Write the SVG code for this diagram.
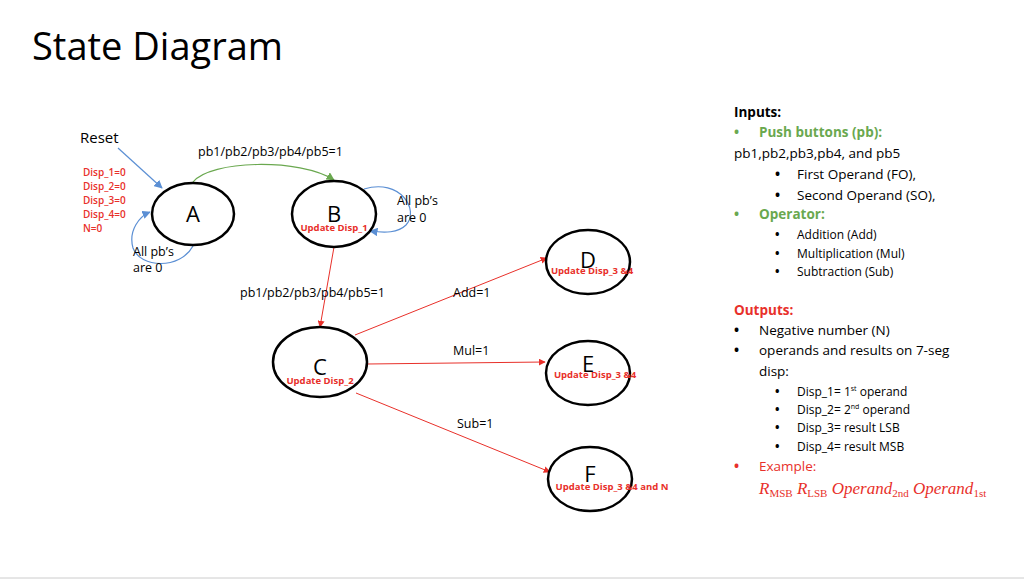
<svg xmlns="http://www.w3.org/2000/svg" width="1024" height="581" viewBox="0 0 1024 581">
<style>
text{font-family:"Open Sans","Liberation Sans",sans-serif;fill:#000}
.st{fill:#fff;stroke:#000;stroke-width:2.5}
.big{font-size:22px}
.red{fill:#e8302a}
.upd{fill:#e8302a;font-size:9.5px;font-weight:bold}
.lbl{font-size:12.5px}
.rt{font-size:13.5px}
.bl{stroke:#5b8fd4;stroke-width:1.2;fill:none}
.rd{stroke:#e8302a;stroke-width:1;fill:none}
.gr{stroke:#6aa84f;stroke-width:1.2;fill:none}
</style>
<defs>
<marker id="mb" viewBox="0 0 10 10" refX="9" refY="5" markerWidth="7" markerHeight="7" orient="auto"><path d="M0,0L10,5L0,10z" fill="#5b8fd4"/></marker>
<marker id="mr" viewBox="0 0 10 10" refX="9" refY="5" markerWidth="7" markerHeight="7" orient="auto"><path d="M0,0L10,5L0,10z" fill="#e8302a"/></marker>
<marker id="mg" viewBox="0 0 10 10" refX="9" refY="5" markerWidth="7" markerHeight="7" orient="auto"><path d="M0,0L10,5L0,10z" fill="#6aa84f"/></marker>
</defs>
<rect width="1024" height="581" fill="#fff"/>
<line x1="0" y1="578" x2="1024" y2="578" stroke="#ccc"/>
<text x="32" y="60" font-size="38">State Diagram</text>
<text x="80" y="143" font-size="15">Reset</text>
<g font-size="10" font-weight="600">
<text x="83" y="176" class="red">Disp_1=0</text><text x="83" y="190" class="red">Disp_2=0</text><text x="83" y="204" class="red">Disp_3=0</text><text x="83" y="218" class="red">Disp_4=0</text><text x="83" y="232" class="red">N=0</text>
</g>
<g id="connectors">
<path class="bl" d="M118,148 L162,188" marker-end="url(#mb)"/>
<path class="bl" d="M193,246 C180,270 140,268 133,248 C128,230 140,216 150,212" marker-end="url(#mb)"/>
<path class="gr" d="M193,182 C210,160 300,158 334,180" marker-end="url(#mg)"/>
<path class="bl" d="M364,189 C400,178 420,210 406,225 C398,233 385,233 370,231" marker-end="url(#mb)"/>
<path class="rd" d="M334,247 L320,327" marker-end="url(#mr)"/>
<path class="rd" d="M355,335 L547,258" marker-end="url(#mr)"/>
<path class="rd" d="M367,364 L545,362" marker-end="url(#mr)"/>
<path class="rd" d="M356,393 L550,472" marker-end="url(#mr)"/>
<text x="198" y="156" class="lbl">pb1/pb2/pb3/pb4/pb5=1</text>
<text x="133" y="256" class="lbl">All pb’s</text><text x="133" y="272" class="lbl">are 0</text>
<text x="397" y="205" class="lbl">All pb’s</text><text x="397" y="222" class="lbl">are 0</text>
<text x="240" y="297" class="lbl">pb1/pb2/pb3/pb4/pb5=1</text>
<text x="453" y="297" class="lbl">Add=1</text>
<text x="453" y="355" class="lbl">Mul=1</text>
<text x="457" y="428" class="lbl">Sub=1</text>
</g>
<g id="A"><ellipse class="st" cx="193" cy="214" rx="41" ry="31"/><text x="193" y="222" class="big" text-anchor="middle">A</text></g>
<g id="B"><ellipse class="st" cx="334" cy="214" rx="42" ry="33"/><text x="334" y="222" class="big" text-anchor="middle">B</text><text x="334" y="231" class="upd" text-anchor="middle">Update Disp_1</text></g>
<g id="C"><ellipse class="st" cx="320" cy="362" rx="47" ry="35"/><text x="320" y="375" class="big" text-anchor="middle">C</text><text x="320" y="384" class="upd" text-anchor="middle">Update Disp_2</text></g>
<g id="D"><ellipse class="st" cx="588" cy="262" rx="42" ry="32"/><text x="588" y="268" class="big" text-anchor="middle">D</text><text x="592" y="274" class="upd" text-anchor="middle">Update Disp_3 &amp;4</text></g>
<g id="E"><ellipse class="st" cx="588" cy="373" rx="42" ry="32"/><text x="588" y="372" class="big" text-anchor="middle">E</text><text x="595" y="378" class="upd" text-anchor="middle">Update Disp_3 &amp;4</text></g>
<g id="F"><ellipse class="st" cx="590" cy="479" rx="42" ry="32"/><text x="590" y="482" class="big" text-anchor="middle">F</text><text x="612" y="490" class="upd" text-anchor="middle">Update Disp_3 &amp;4 and N</text></g>
<g id="legend" class="rt">
<text x="734" y="117" font-weight="bold">Inputs:</text>
<text x="734" y="137" font-weight="bold" style="fill:#6aa84f">•</text><text x="759" y="137" font-weight="bold" style="fill:#6aa84f">Push buttons (pb):</text>
<text x="734" y="158">pb1,pb2,pb3,pb4, and pb5</text>
<text x="775" y="179" font-weight="bold">•</text><text x="797" y="179">First Operand (FO),</text>
<text x="775" y="200" font-weight="bold">•</text><text x="797" y="200">Second Operand (SO),</text>
<text x="734" y="219" font-weight="bold" style="fill:#6aa84f">•</text><text x="759" y="219" font-weight="bold" style="fill:#6aa84f">Operator:</text>
<g font-size="12"><text x="775" y="239" font-weight="bold">•</text><text x="797" y="239">Addition (Add)</text>
<text x="775" y="258" font-weight="bold">•</text><text x="797" y="258">Multiplication (Mul)</text>
<text x="775" y="276" font-weight="bold">•</text><text x="797" y="276">Subtraction (Sub)</text></g>
<text x="734" y="315" font-weight="bold" class="red">Outputs:</text>
<text x="734" y="335" font-weight="bold">•</text><text x="759" y="335">Negative number (N)</text>
<text x="734" y="355" font-weight="bold">•</text><text x="759" y="355">operands and results on 7-seg</text>
<text x="759" y="376">disp:</text>
<g font-size="12"><text x="775" y="396" font-weight="bold">•</text><text x="797" y="396">Disp_1= 1<tspan font-size="7" dy="-5">st</tspan><tspan dy="5"> operand</tspan></text>
<text x="775" y="414" font-weight="bold">•</text><text x="797" y="414">Disp_2= 2<tspan font-size="7" dy="-5">nd</tspan><tspan dy="5"> operand</tspan></text>
<text x="775" y="432" font-weight="bold">•</text><text x="797" y="432">Disp_3= result LSB</text>
<text x="775" y="451" font-weight="bold">•</text><text x="797" y="451">Disp_4= result MSB</text></g>
<text x="734" y="471" font-weight="bold" class="red">•</text><text x="759" y="471" class="red">Example:</text>
<text x="759" y="494" class="red" style="font-family:'Liberation Serif',serif;font-style:italic;font-size:17px">R<tspan font-style="normal" font-size="11" dy="3">MSB</tspan><tspan dy="-3"> R</tspan><tspan font-style="normal" font-size="11" dy="3">LSB</tspan><tspan dy="-3">  Operand</tspan><tspan font-style="normal" font-size="11" dy="3">2nd</tspan><tspan dy="-3"> Operand</tspan><tspan font-style="normal" font-size="11" dy="3">1st</tspan></text>
</g>
</svg>
